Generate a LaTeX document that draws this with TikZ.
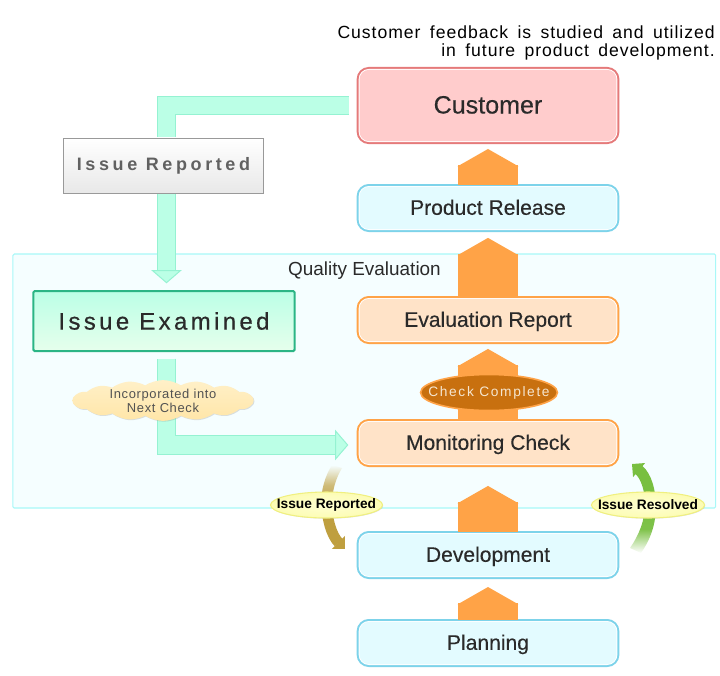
\documentclass[tikz,border=0pt]{standalone}
\usepackage{fontspec}
\setmainfont{Liberation Sans}
\newfontfamily\notefont[LetterSpace=5.5,WordSpace=1.6]{Liberation Sans}
\usetikzlibrary{arrows.meta,shapes.geometric,shapes.symbols,shadows}
\definecolor{mintfill}{HTML}{BBFFE6}
\definecolor{mintedge}{HTML}{95F2D2}
\definecolor{stageblue}{HTML}{E3FBFF}
\definecolor{stageedge}{HTML}{7DD3EA}
\definecolor{peach}{HTML}{FFE3C8}
\definecolor{peachedge}{HTML}{FFA347}
\definecolor{rosefill}{HTML}{FFCCCC}
\definecolor{roseedge}{HTML}{E57A7A}
\definecolor{blockorange}{HTML}{FFA347}
\definecolor{textdark}{HTML}{2A2A2A}
\definecolor{framefill}{HTML}{F5FEFF}
\definecolor{frameedge}{HTML}{A8F8F8}
\definecolor{brownarrow}{HTML}{BF9F3F}
\definecolor{greenarrow}{HTML}{78BF40}
\definecolor{examedge}{HTML}{2BB585}
\definecolor{examlow}{HTML}{E6FFEC}
\definecolor{tagcentre}{HTML}{FFFFD2}
\definecolor{tagmid}{HTML}{FCFCB4}
\definecolor{tagrim}{HTML}{F0F080}
\definecolor{checkfill}{HTML}{C8700F}
\definecolor{checktext}{HTML}{F5E6D0}
\definecolor{cloudtop}{HTML}{FFF0C8}
\definecolor{cloudlow}{HTML}{FFE6A8}
\tikzset{
	stagebox/.style n args={3}{rounded corners=7pt,minimum width=192.6pt,minimum height=#1,
		preaction={draw=#3,line width=4.4pt},preaction={draw=white,line width=1.4pt},
		fill=#2,text=textdark,text height=10.2pt,text depth=0pt,font=\fontsize{15.8}{15.8}\selectfont\addfontfeature{FakeBold=.25}},
	upblock/.style={line width=45pt,draw=blockorange,shorten <=1.6pt,shorten >=#1,
		-{Triangle[length=13pt,width=45pt]}},
	mintline/.style={draw=mintedge,line width=.75pt,double=mintfill,double distance=13pt,
		-{Triangle[length=10pt,width=23pt,fill=mintfill,line width=.75pt]}},
	tagoval/.style={ellipse,inner ysep=0pt,inner xsep=-7.5pt,minimum height=19.5pt,
		draw=tagrim,line width=.8pt,inner color=tagcentre,outer color=tagmid,
		drop shadow={shadow xshift=.5pt,shadow yshift=-.5pt,opacity=.25},
		font=\fontsize{10.3}{10.3}\selectfont\bfseries},
	bendarrow/.style={line width=8pt,-{Triangle[length=7pt,width=13.5pt]}}
}
\begin{document}
\begin{tikzpicture}[x=.75pt,y=-.75pt]
	\useasboundingbox (0,0) rectangle (720,675);
	% quality frame
	\node (quality) [draw=frameedge,fill=framefill,line width=.8pt,rounded corners=1pt,minimum width=527pt,minimum height=190.5pt,inner sep=0pt] at (364.25,381) {};
	\node (qualitylabel) [text=textdark,font=\fontsize{14.2}{14.2}\selectfont] at (364.5,271) {Quality Evaluation};
	\node (note) [anchor=north east,align=right,inner sep=0pt,font=\fontsize{13.2}{13.3}\selectfont\notefont] at (715,25.5) {Customer feedback is studied and utilized\\in future product development.};
	% stages
	\node (customer) [stagebox={53.4pt}{rosefill}{roseedge},text height=12pt,font=\fontsize{18.8}{18.8}\selectfont\addfontfeature{FakeBold=.25}] at (488,105.5) {Customer};
	\node (release) [stagebox={31.6pt}{stageblue}{stageedge}] at (488,208) {Product Release};
	\node (report) [stagebox={31.6pt}{peach}{peachedge}] at (488,320) {Evaluation Report};
	\node (monitor) [stagebox={31.6pt}{peach}{peachedge}] at (488,443) {Monitoring Check};
	\node (develop) [stagebox={31.6pt}{stageblue}{stageedge}] at (488,555) {Development};
	\node (plan) [stagebox={31.6pt}{stageblue}{stageedge}] at (488,643) {Planning};
	% orange arrows
	\draw [upblock=8pt] (plan.north) -- (develop.south);
	\draw [upblock=16.2pt] (develop.north) -- (monitor.south);
	\draw [upblock=5.7pt] (monitor.north) -- (report.south);
	\draw [upblock=6.4pt] (report.north) -- (release.south);
	\draw [upblock=5.7pt] (release.north) -- (customer.south);
	\node (complete) [ellipse,draw=peachedge,fill=checkfill,line width=1.2pt,inner ysep=0pt,inner xsep=-9.2pt,minimum height=27pt,text=checktext,font=\fontsize{10.3}{10.3}\selectfont\addfontfeature{LetterSpace=12}] at (489,392.5) {Check Complete};
	% feedback path
	\node (examined) [draw=examedge,line width=1.5pt,rounded corners=1pt,top color=mintfill,bottom color=examlow,minimum width=196pt,minimum height=45pt,text=textdark,font=\fontsize{18}{18}\selectfont\addfontfeature{LetterSpace=14,FakeBold=.5}] at (164,321) {Issue Examined};
	\coordinate (examtop) at (166.5,290);
	\coordinate (exambottom) at (166.5,352);
	\coordinate (monitorin) at (357,445);
	\draw [mintline,shorten <=8pt,shorten >=5pt] (customer.west) -| (examtop);
	\draw [mintline,shorten <=5pt,shorten >=6.5pt] (exambottom) |- (monitorin);
	\node (reported) [draw=black!40,top color=white,bottom color=black!9,minimum width=150pt,minimum height=41.5pt,drop shadow={shadow xshift=.7pt,shadow yshift=-.7pt,opacity=.25},text=black!62,font=\fontsize{13.5}{13.5}\selectfont\bfseries\addfontfeature{LetterSpace=20}] at (163.5,165.5) {Issue Reported};
	\node (nextcheck) [cloud,cloud puffs=16,cloud puff arc=65,aspect=4.6,inner xsep=0pt,inner ysep=-3pt,minimum width=136pt,minimum height=27pt,top color=cloudtop,bottom color=cloudlow,drop shadow={shadow xshift=.6pt,shadow yshift=-.6pt,opacity=.25},align=center,text=black!68,font=\fontsize{9.7}{10.5}\selectfont\addfontfeature{LetterSpace=5}] at (163,400.5) {Incorporated into\\Next Check};
	% loop arrows
	\coordinate (brownmid) at (326.5,500);
	\coordinate (brownend) at (345,549);
	\coordinate (greenmid) at (650.5,510);
	\coordinate (greenend) at (632,464);
	\shade [top color=framefill,bottom color=brownarrow,middle color=brownarrow!70!framefill] (342,468) .. controls (336,478) and (332,490) .. (332,505) -- (321,505) .. controls (321,490) and (325,476) .. (332,465) -- cycle;
	\shade [top color=greenarrow,bottom color=white,middle color=greenarrow!95!white] (656,505) .. controls (656,525) and (650,540) .. (641,553) -- (630,548) .. controls (639,535) and (645,520) .. (645,505) -- cycle;
	\draw [bendarrow,brownarrow] (brownmid) .. controls (326.5,520) and (332,536) .. (brownend);
	\draw [bendarrow,greenarrow] (greenmid) .. controls (651,490) and (646,476) .. (greenend);
	\node (reportedtag) [tagoval] at (326.5,505) {Issue Reported};
	\node (resolvedtag) [tagoval] at (648,505) {Issue Resolved};
\end{tikzpicture}
\end{document}
